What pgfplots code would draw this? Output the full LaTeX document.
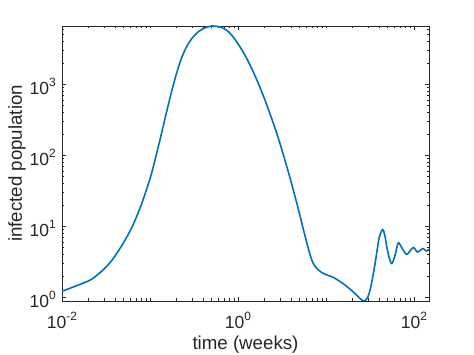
\documentclass[border=0pt]{standalone}
\usepackage{fontspec}
\setmainfont{Liberation Sans}
\usepackage{pgfplots}
\pgfplotsset{compat=1.18}
\definecolor{mblue}{rgb}{0,0.447,0.741}
\definecolor{mgray}{rgb}{0.15,0.15,0.15}
\newcommand\tl[2]{#1\raisebox{8.5pt}{\fontsize{12}{12}\selectfont #2}}
\begin{document}
\begin{tikzpicture}[x=1pt,y=1pt]
\useasboundingbox (0,0) rectangle (474,355);
\begin{axis}[at={(62pt,54pt)}, anchor=south west, scale only axis,
  width=367pt, height=275pt,
  xmode=log, ymode=log,
  xmin=0.01, xmax=147.9, ymin=0.887, ymax=6607,
  xtick={0.01,1,100}, xticklabels={\tl{10}{-2},\tl{10}{0},\tl{10}{2}},
  ytick={1,10,100,1000}, yticklabels={\tl{10}{0},\tl{10}{1},\tl{10}{2},\tl{10}{3}},
  minor xtick={0.02,0.03,0.04,0.05,0.06,0.07,0.08,0.09,0.1,0.2,0.3,0.4,0.5,0.6,0.7,0.8,0.9,2,3,4,5,6,7,8,9,10,20,30,40,50,60,70,80,90},
  minor ytick={2,3,4,5,6,7,8,9,20,30,40,50,60,70,80,90,200,300,400,500,600,700,800,900,2000,3000,4000,5000,6000},
  tick align=inside, xtick pos=both, ytick pos=both,
  major tick length=4pt, minor tick length=2.5pt,
  every tick/.style={mgray, line width=0.5pt},
  axis line style={mgray, line width=0.6pt},
  ticklabel style={font=\fontsize{17.5}{20}\selectfont, text=mgray, inner sep=0pt},
  xticklabel style={anchor=base, yshift=-28pt},
  yticklabel style={anchor=base east, xshift=-6pt, yshift=-10.5pt},
  xlabel={time (weeks)}, ylabel={infected population},
  every axis x label/.style={at={(axis description cs:0.5,0)}, anchor=base,
    yshift=-49pt, font=\fontsize{18.7}{22}\selectfont, text=mgray, inner sep=0pt},
  every axis y label/.style={at={(axis description cs:0,0.5)}, xshift=-40pt, rotate=90, anchor=base,
    font=\fontsize{18.7}{22}\selectfont, text=mgray, inner sep=0pt},
]
\addplot[mblue, line width=1.6pt, smooth, tension=0.5] coordinates {
(0.01,1.216)
(0.01995,1.698)
(0.02512,2.065)
(0.03020,2.512)
(0.03467,3.020)
(0.03981,3.776)
(0.05012,5.888)
(0.06310,10)
(0.07943,19.95)
(0.1,46.77)
(0.1122,79.43)
(0.1259,141.3)
(0.1413,257.0)
(0.1585,467.7)
(0.1778,831.8)
(0.1995,1396)
(0.2239,2188)
(0.2512,3090)
(0.2818,3981)
(0.3162,4786)
(0.3548,5495)
(0.3981,6026)
(0.4467,6383)
(0.5012,6607)
(0.6310,6383)
(0.7943,5370)
(1,3715)
(1.259,2291)
(1.585,1259)
(1.950,676.1)
(2.344,363.1)
(2.754,204.2)
(3.162,117.5)
(3.548,72.44)
(3.981,43.65)
(4.467,25.70)
(5.012,14.79)
(5.623,8.318)
(6.310,4.786)
(6.918,3.311)
(7.413,2.786)
(7.943,2.512)
(8.913,2.239)
(10,2.080)
(12.11,1.905)
(15.74,1.549)
(20.42,1.189)
(23.99,0.977)
(26.92,0.887)
(29.51,0.977)
(31.62,1.256)
(33.88,1.905)
(36.06,2.985)
(38.02,4.571)
(40.36,7.079)
(44.06,8.974)
(46.77,7.244)
(48.98,5.129)
(52.48,3.548)
(55.85,2.985)
(60.81,3.890)
(66.07,5.821)
(72.44,5.012)
(82.60,4.027)
(97.72,5.012)
(109.6,4.345)
(125.9,4.853)
(138.0,4.487)
(147.9,4.699)
};
\end{axis}
\end{tikzpicture}
\end{document}
